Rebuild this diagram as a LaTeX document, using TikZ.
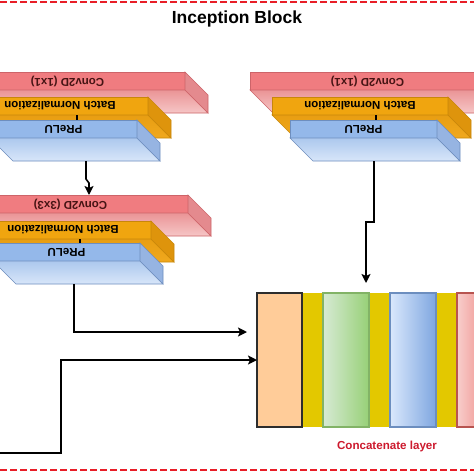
\documentclass[tikz,border=0pt]{standalone}
\usepackage{fontspec}
\setmainfont{Liberation Sans}
\usetikzlibrary{calc,arrows.meta}
\definecolor{redF}{RGB}{240,124,128}
\definecolor{redL}{RGB}{205,100,105}
\definecolor{redT}{RGB}{234,148,150}
\definecolor{redB}{RGB}{246,198,198}
\definecolor{redS}{RGB}{228,138,142}
\definecolor{orgF}{RGB}{240,165,15}
\definecolor{orgL}{RGB}{200,135,10}
\definecolor{orgT}{RGB}{232,158,18}
\definecolor{orgB}{RGB}{240,168,30}
\definecolor{orgS}{RGB}{222,148,12}
\definecolor{bluF}{RGB}{148,184,234}
\definecolor{bluL}{RGB}{110,142,190}
\definecolor{bluT}{RGB}{172,200,238}
\definecolor{bluB}{RGB}{216,230,249}
\definecolor{bluS}{RGB}{150,180,226}
\definecolor{convtxt}{RGB}{70,20,20}
\definecolor{catO}{RGB}{255,204,153}
\definecolor{catOL}{RGB}{45,45,45}
\definecolor{yel}{RGB}{227,200,0}
\definecolor{grnL}{RGB}{215,234,212}
\definecolor{grnR}{RGB}{151,208,119}
\definecolor{grnD}{RGB}{130,179,102}
\definecolor{bcL}{RGB}{218,232,252}
\definecolor{bcR}{RGB}{126,166,224}
\definecolor{bcD}{RGB}{108,142,191}
\definecolor{rcL}{RGB}{248,206,204}
\definecolor{rcR}{RGB}{234,107,102}
\definecolor{rcD}{RGB}{184,84,80}
\definecolor{lblred}{RGB}{205,25,45}
\definecolor{dashred}{RGB}{232,30,40}
\newcommand\myslab[7]{%
  \node[slabfront, anchor=north west, minimum width=#4pt, fill=#5F, draw=#5L, text=#7] (#1) at (#2,#3) {\rotatebox{180}{#6}};
  \path[draw=#5L, line width=0.6pt, top color=#5T, bottom color=#5B] (#1.south west) -- (#1.south east) -- ++(23,23) -- ($(#1.south west)+(23,23)$) -- cycle;
  \filldraw[fill=#5S, draw=#5L, line width=0.6pt] (#1.north east) -- ++(23,23) -- ++(0,18) -- (#1.south east) -- cycle;
}
\begin{document}
\begin{tikzpicture}[x=1pt,y=-1pt,
  slabfront/.style={rectangle, inner sep=0pt, outer sep=0pt, minimum height=18pt, line width=0.6pt, font=\bfseries\fontsize{11.5}{12}\selectfont},
  arr/.style={line width=1.6pt, -{Stealth[length=9pt,width=9pt,inset=2pt]}},
  link/.style={line width=1.6pt},
  cbox/.style={rectangle, inner sep=0pt, outer sep=0pt, minimum height=134pt},
  dashline/.style={draw=dashred, line width=2.2pt, dash pattern=on 6.5pt off 3.5pt}]
\useasboundingbox (0,0) rectangle (474,474);
\clip (0,0) rectangle (474,474);
\fill[white] (0,0) rectangle (474,474);

% dashed borders
\draw[dashline] (0,2) -- (474,2);
\draw[dashline] (0,470) -- (474,470);

% title
\node[font=\bfseries\fontsize{17.5}{20}\selectfont, anchor=base] (title) at (237,23.3) {Inception Block};

% left stack 1
\myslab{LAred}{-50}{72}{235}{red}{Conv2D (1x1)}{convtxt}
\myslab{LAorg}{-28}{97}{176}{org}{Batch Normalization}{black}
\draw[link] ($(LAorg.south west)+(105,0)$) -- ($(LAorg.south west)+(105,5)$);
\myslab{LAblu}{-10}{120}{147}{blu}{PReLU}{black}

% left stack 2
\myslab{LBred}{-47}{195}{235}{red}{Conv2D (3x3)}{convtxt}
\myslab{LBorg}{-25}{221}{176}{org}{Batch Normalization}{black}
\draw[link] ($(LBorg.south west)+(105,0)$) -- ($(LBorg.south west)+(105,4)$);
\myslab{LBblu}{-7}{243}{147}{blu}{PReLU}{black}

% right stack
\myslab{Rred}{250}{72}{235}{red}{Conv2D (1x1)}{convtxt}
\myslab{Rorg}{272}{97}{176}{org}{Batch Normalization}{black}
\draw[link] ($(Rorg.south west)+(104,0)$) -- ($(Rorg.south west)+(104,5)$);
\myslab{Rblu}{290}{120}{147}{blu}{PReLU}{black}

% concatenate layer
\node[cbox, fill=yel, minimum width=190pt] (Ybar) at (395,360) {};
\node[cbox, fill=catO, draw=catOL, line width=2pt, minimum width=45pt] (C1) at (279.5,360) {};
\node[cbox, left color=grnL, right color=grnR, draw=grnD, line width=1.2pt, minimum width=46pt] (C2) at (346,360) {};
\node[cbox, left color=bcL, right color=bcR, draw=bcD, line width=1.2pt, minimum width=46pt] (C3) at (413,360) {};
\node[cbox, left color=rcL, right color=rcR, draw=rcD, line width=1.2pt, minimum width=46pt] (C4) at (480,360) {};
\node[font=\bfseries\fontsize{11.6}{13}\selectfont, text=lblred, anchor=base] (lbl) at (387,449.5) {Concatenate layer};

% connectors
\coordinate (in1) at (247,332);
\coordinate (in2) at (366,283);
\coordinate (src) at (0,453);
\draw[arr] ($(LAblu.south west)+(96,23)$) -- ++(0,18) -- ++(3,4) -- ($(LBred.north west)+(136,0)$);
\draw[arr] ($(LBblu.south west)+(81,23)$) |- (in1);
\draw[arr] (src) -- ++(61,0) |- (C1.west);
\draw[arr] ($(Rblu.south west)+(84,23)$) -- ++(0,61) -- ++(-8,0) -- (in2);
\end{tikzpicture}
\end{document}
